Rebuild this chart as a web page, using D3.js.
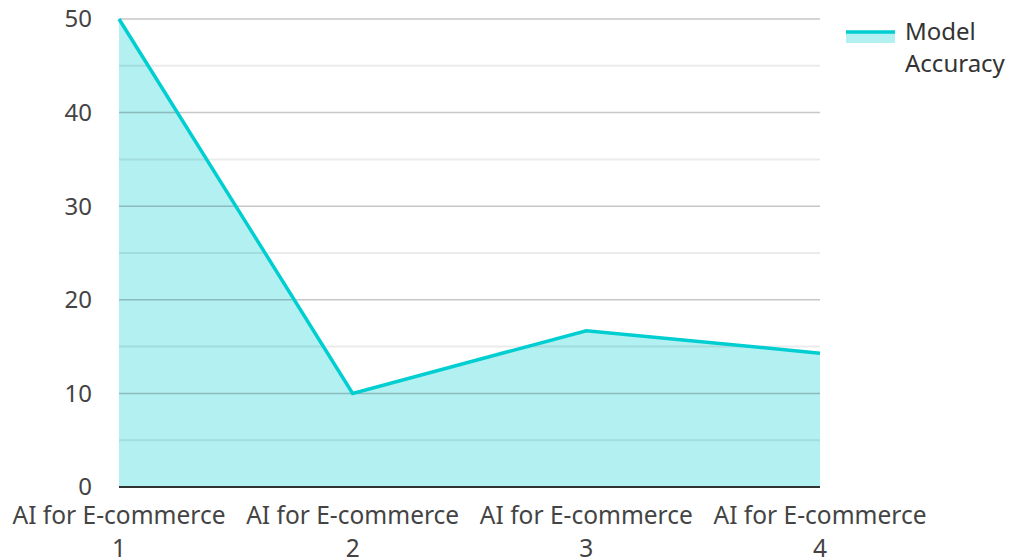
<!DOCTYPE html>
<html>
<head>
<meta charset="utf-8">
<script src="https://cdn.jsdelivr.net/npm/d3@7"></script>
<style>
  body { margin: 0; background: #fff; }
  text { font-family: "Noto Sans", "Open Sans", sans-serif; fill: #444; }
</style>
</head>
<body>
<script>
var categories = ['AI for E-commerce 1', 'AI for E-commerce 2', 'AI for E-commerce 3', 'AI for E-commerce 4'];
var accuracy = [50, 10, 16.7, 14.3];
var yTicks = [0, 10, 20, 30, 40, 50];
var seriesName = 'Model Accuracy';

var w = 1010;
var h = 558;
var padLeft = 119, padRight = 820, padTop = 19, padBottom = 487;
var color = '#00ced1';

var svg = d3.select('body').append('svg')
            .attr('width', w)
            .attr('height', h);

var ScaleX = d3.scalePoint()
               .domain(categories)
               .range([padLeft, padRight]);

var ScaleY = d3.scaleLinear()
               .domain([0, 50])
               .range([padBottom, padTop]);

var data = categories.map(function(c, i){ return { cat: c, val: accuracy[i] }; });

// area fill
var area = d3.area()
             .x(function(d){ return ScaleX(d.cat); })
             .y0(ScaleY(0))
             .y1(function(d){ return ScaleY(d.val); });

svg.append('path')
   .datum(data)
   .attr('d', area)
   .style('fill', color)
   .style('fill-opacity', 0.3);

// grid lines (minor every 5, major every 10)
var minor = d3.range(5, 50, 10);
svg.selectAll('line.minor')
   .data(minor)
   .enter()
   .append('line')
   .attr('class', 'minor')
   .attr('x1', padLeft).attr('x2', padRight)
   .attr('y1', function(d){ return ScaleY(d); })
   .attr('y2', function(d){ return ScaleY(d); })
   .style('stroke', '#000')
   .style('stroke-opacity', 0.08)
   .style('stroke-width', 2);

svg.selectAll('line.major')
   .data(yTicks.slice(1))
   .enter()
   .append('line')
   .attr('class', 'major')
   .attr('x1', padLeft).attr('x2', padRight)
   .attr('y1', function(d){ return ScaleY(d); })
   .attr('y2', function(d){ return ScaleY(d); })
   .style('stroke', '#000')
   .style('stroke-opacity', 0.22)
   .style('stroke-width', 1.5);

// line
var line = d3.line()
             .x(function(d){ return ScaleX(d.cat); })
             .y(function(d){ return ScaleY(d.val); });

svg.append('path')
   .datum(data)
   .attr('d', line)
   .style('fill', 'none')
   .style('stroke', color)
   .style('stroke-width', 3.5);

// x axis line
svg.append('line')
   .attr('x1', padLeft).attr('x2', padRight)
   .attr('y1', padBottom).attr('y2', padBottom)
   .style('stroke', '#333')
   .style('stroke-width', 2);

// y labels
svg.selectAll('text.ytick')
   .data(yTicks)
   .enter()
   .append('text')
   .attr('class', 'ytick')
   .attr('x', 92)
   .attr('y', function(d){ return ScaleY(d); })
   .attr('dy', '0.35em')
   .attr('text-anchor', 'end')
   .style('font-size', '24px')
   .text(function(d){ return d; });

// x labels (two lines)
var xl = svg.selectAll('text.xtick')
   .data(categories)
   .enter()
   .append('text')
   .attr('class', 'xtick')
   .attr('text-anchor', 'middle')
   .style('font-size', '24.5px');

xl.append('tspan')
  .attr('x', function(d){ return ScaleX(d); })
  .attr('y', 524)
  .text(function(d){ return d.slice(0, d.lastIndexOf(' ')); });

xl.append('tspan')
  .attr('x', function(d){ return ScaleX(d); })
  .attr('y', 557)
  .text(function(d){ return d.slice(d.lastIndexOf(' ') + 1); });

// legend
svg.append('rect')
   .attr('x', 846).attr('y', 32)
   .attr('width', 49).attr('height', 11)
   .style('fill', color)
   .style('fill-opacity', 0.3);

svg.append('line')
   .attr('x1', 846).attr('x2', 895)
   .attr('y1', 32).attr('y2', 32)
   .style('stroke', color)
   .style('stroke-width', 3.5);

var words = seriesName.split(' ');
svg.selectAll('text.legend')
   .data(words)
   .enter()
   .append('text')
   .attr('class', 'legend')
   .attr('x', 905)
   .attr('y', function(d, i){ return 40 + i * 32; })
   .style('font-size', '24px')
   .style('fill', '#333')
   .text(function(d){ return d; });
</script>
</body>
</html>
